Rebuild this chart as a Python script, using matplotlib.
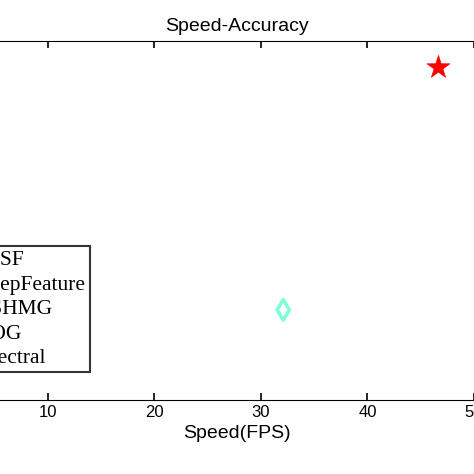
import matplotlib
matplotlib.use("Agg")
import matplotlib.pyplot as plt

methods = ["TSSF", "DeepFeature", "CSHMG", "HOG", "Spectral"]
speed = [46.6, 32.1, 3.0, 2.0, 1.0]
accuracy = [0.928, 0.251, 0.6, 0.5, 0.4]
markers = ["*", "d", "o", "s", "^"]
colors = ["red", "aquamarine", "blue", "green", "magenta"]
sizes = [300, 110, 80, 80, 80]
xticks = [10, 20, 30, 40, 50]

fig = plt.figure(figsize=(4.74, 4.74), dpi=100)
ax = fig.add_axes([0, 74/474, 1, 359/474])
for m, s, a, mk, c, sz in zip(methods, speed, accuracy, markers, colors, sizes):
    ax.scatter(s, a, marker=mk, s=sz, color=c, label=m,
               facecolors="none" if mk == "d" else c, linewidths=2.5 if mk == "d" else 0.5)
ax.set_xlim(5.52, 49.74)
ax.set_ylim(0, 1)
ax.set_xticks(xticks)
ax.set_yticks([])
for sp in ["left", "right"]:
    ax.spines[sp].set_visible(False)
ax.tick_params(axis="x", direction="in", top=True, length=5, width=1.2, labelsize=12)
for lab in ax.get_xticklabels():
    lab.set_fontfamily("Liberation Sans")
ax.set_title("Speed-Accuracy", fontsize=14, family="Liberation Sans", pad=7)
ax.set_xlabel("Speed(FPS)", fontsize=14, family="Liberation Sans")
leg = ax.legend(loc="lower right", bbox_to_anchor=(101/474, 17/359),
                prop={"family": "Liberation Serif", "size": 15.5},
                frameon=True, fancybox=False, edgecolor="black",
                handletextpad=0.3, labelspacing=0.2, borderpad=0.2)
leg.get_frame().set_linewidth(1.5)
fig.savefig("out.png", dpi=100)
